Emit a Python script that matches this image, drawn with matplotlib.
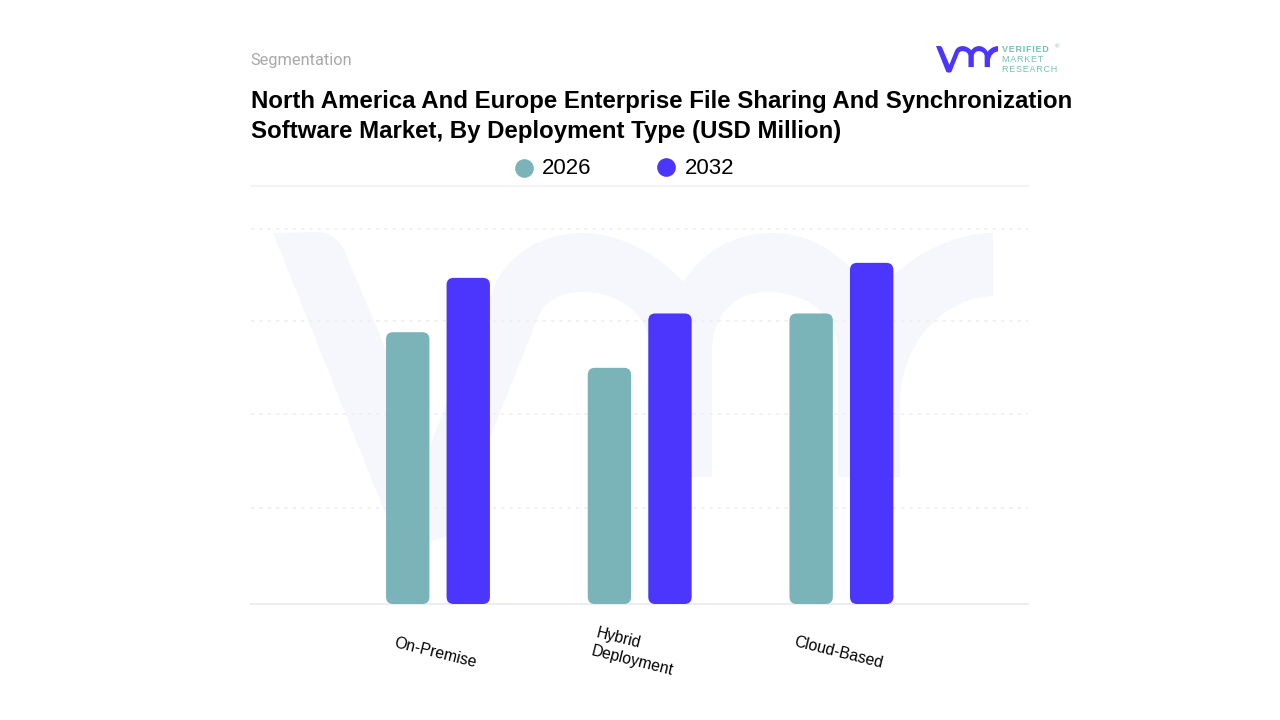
#!/usr/bin/python3

import numpy as np
import matplotlib
matplotlib.use('Agg')
import matplotlib.pyplot as plt
from matplotlib.patches import FancyBboxPatch, PathPatch
from matplotlib.path import Path

plt.rcParams['font.family'] = ['Liberation Sans', 'DejaVu Sans']

categories = ['On-Premise', 'Hybrid\nDeployment', 'Cloud-Based']
years = ['2026', '2032']
values_2026 = [290, 252, 310]
values_2032 = [348, 310, 364]
grid_values = [102, 203, 302, 400]

TEAL = '#7ab3b8'
BLUE = '#4c36fd'
LOGO_TEXT = '#72c2b4'


def logo_path(x0, y0, s):
    # vmr outline traced in pixels, rescaled to sit with its top left at x0, y0
    M, L, C = Path.MOVETO, Path.LINETO, Path.CURVE4
    segs = [
        (M, [(273, 233)]),
        (L, [(317, 232)]),
        (C, [(333, 232), (342, 244), (347, 257)]),
        (L, [(428, 450)]),
        (L, [(497, 280)]),
        (C, [(515, 250), (545, 233), (583, 233)]),
        (C, [(615, 233), (655, 250), (683, 282)]),
        (C, [(705, 250), (735, 233), (773, 233)]),
        (C, [(810, 233), (850, 255), (872, 300)]),
        (C, [(895, 265), (945, 233), (993, 233)]),
        (L, [(993, 296)]),
        (C, [(945, 298), (902, 340), (900, 400)]),
        (L, [(900, 477)]),
        (L, [(838, 477)]),
        (L, [(838, 350)]),
        (C, [(838, 315), (805, 292), (767, 292)]),
        (C, [(735, 292), (712, 315), (712, 350)]),
        (L, [(712, 477)]),
        (L, [(650, 477)]),
        (L, [(650, 350)]),
        (C, [(650, 315), (620, 292), (583, 292)]),
        (C, [(555, 292), (540, 305), (535, 325)]),
        (L, [(453, 530)]),
        (C, [(445, 545), (400, 545), (392, 530)]),
        (L, [(273, 233)]),
    ]
    verts, codes = [], []
    for code, pts in segs:
        for px, py in pts:
            verts.append((x0 + (px - 273) * s, y0 + (py - 232) * s))
            codes.append(code)
    return Path(verts, codes)


def spaced(word):
    return '\u200a'.join(word)


def main():
    fig = plt.figure(figsize=(12.8, 7.2), dpi=100)

    # overlay in pixel coordinates for the page furniture
    page = fig.add_axes([0, 0, 1, 1], zorder=0)
    page.set_xlim(0, 1280)
    page.set_ylim(720, 0)
    page.axis('off')

    # watermark
    page.add_patch(PathPatch(logo_path(273, 232, 1.0), fc='#f6f7fd', ec='none'))

    page.text(250, 60, 'Segmentation', fontsize=11.8, color='#a8a8a8', va='center',
              family=['Roboto', 'DejaVu Sans'])
    page.text(251, 116.5, 'North America And Europe Enterprise File Sharing And Synchronization\n'
              'Software Market, By Deployment Type (USD Million)',
              fontsize=17.3, fontweight='bold', color='black', va='center', linespacing=1.35)

    # logo top right
    page.add_patch(PathPatch(logo_path(936, 46, 0.0861), fc=BLUE, ec='none'))
    page.text(1002, 50, spaced('VERIFIED'), fontsize=6.5, fontweight='bold', color=LOGO_TEXT, va='center')
    page.text(1002, 60, spaced('MARKET'), fontsize=6.5, color=LOGO_TEXT, va='center')
    page.text(1002, 69.5, spaced('RESEARCH'), fontsize=6.5, color=LOGO_TEXT, va='center')
    page.text(1055, 47, '\u00ae', fontsize=4.5, color=LOGO_TEXT, va='center')

    # legend
    page.scatter([524], [168], s=181, color=TEAL, linewidths=0)
    page.scatter([666], [167], s=181, color=BLUE, linewidths=0)
    page.text(542, 168, years[0], fontsize=16, va='center', color='black')
    page.text(685, 169, years[1], fontsize=16, va='center', color='black')

    # chart
    ax = fig.add_axes([251 / 1280, 1 - 604 / 720, 777 / 1280, 418 / 720], zorder=1)
    ax.patch.set_alpha(0)
    ax.set_xlim(-0.927, 2.925)
    ax.set_ylim(0, 446)

    width = 0.215
    offset = 0.15
    aspect = (446 / 418) / (3.852 / 777)
    x = np.arange(len(categories))
    for xs, vals, color in ((x - offset, values_2026, TEAL), (x + offset, values_2032, BLUE)):
        for xi, v in zip(xs, vals):
            ax.add_patch(FancyBboxPatch((xi - width / 2, 0), width, v,
                                        boxstyle='round,pad=0,rounding_size=0.035',
                                        mutation_aspect=aspect, fc=color, ec='none', zorder=3))

    ax.hlines(grid_values, -0.927, 2.925, colors='#efefef', linestyles=(0, (2, 3)), lw=1.2, zorder=1)
    ax.axhline(446, color='#f3f3f3', lw=1.5, clip_on=False)
    ax.axhline(0, color='#ecedf0', lw=1.5, zorder=2, clip_on=False)

    for side in ax.spines.values():
        side.set_visible(False)
    ax.set_xticks([])
    ax.set_yticks([])

    label_dx = [-3, -5, -3]
    label_dy = [-49, -48, -49]
    for xi, label, dx, dy in zip(x, categories, label_dx, label_dy):
        ax.annotate(label, xy=(xi, 0), xytext=(dx, dy), textcoords='offset pixels',
                    rotation=-14, ha='center', va='center', ma='left', fontsize=11.3,
                    color='black', linespacing=1.25)

    plt.savefig('out.png', dpi=100)
    plt.close()


if __name__ == "__main__":
    main()
